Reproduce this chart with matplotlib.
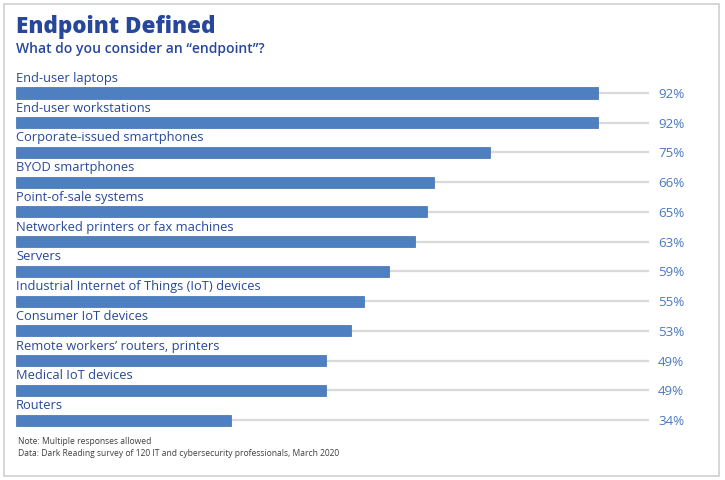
import matplotlib.pyplot as plt
from matplotlib.patches import Rectangle

categories = [
    "End-user laptops",
    "End-user workstations",
    "Corporate-issued smartphones",
    "BYOD smartphones",
    "Point-of-sale systems",
    "Networked printers or fax machines",
    "Servers",
    "Industrial Internet of Things (IoT) devices",
    "Consumer IoT devices",
    "Remote workers\u2019 routers, printers",
    "Medical IoT devices",
    "Routers",
]
values = [92, 92, 75, 66, 65, 63, 59, 55, 53, 49, 49, 34]

navy = "#27489a"
bar_blue = "#4d7fc1"
pct_blue = "#4a78c0"
track = "#d9d9d9"

W, H = 725, 480
fig = plt.figure(figsize=(W / 100, H / 100), dpi=100)
plt.rcParams['font.family'] = ['Open Sans', 'DejaVu Sans']

# outer frame
fig.patches.append(Rectangle((4 / W, 4 / H), 715 / W, 472 / H, transform=fig.transFigure,
                             fill=False, edgecolor="#cfcfcf", linewidth=1.2))

# axes: x 0..100 spans px 16..648.6, rows pitch ~29.7 px
pitch = 29.73
top_px = 93 - pitch
bot_px = 93 + pitch * 11.5
ax = fig.add_axes([16 / W, 1 - bot_px / H, (648.6 - 16) / W, (bot_px - top_px) / H])
ax.set_xlim(0, 100)
ax.set_ylim(11.5, -1)
ax.axis("off")

y = list(range(len(categories)))
ax.hlines(y, 0, 100, color=track, linewidth=1.6, zorder=1)
ax.barh(y, values, height=0.37, color=bar_blue, edgecolor="#3f6fae", linewidth=0.5, zorder=2)

for i, (cat, v) in enumerate(zip(categories, values)):
    ax.text(0, i - 0.37, cat, fontsize=9.3, color=navy, va="baseline", ha="left")
    ax.text(101.5, i, f"{v}%", fontsize=9.6, color=pct_blue, va="center_baseline", ha="left")

fig.text(16 / W, 1 - 33 / H, "Endpoint Defined", fontsize=16.1, fontweight=800,
         color=navy, va="baseline")
fig.text(16 / W, 1 - 53 / H, "What do you consider an \u201cendpoint\u201d?", fontsize=10,
         fontweight="semibold", color=navy, va="baseline")
fig.text(18 / W, 1 - 444 / H, "Note: Multiple responses allowed", fontsize=6.15,
         color="#404040", va="baseline")
fig.text(18 / W, 1 - 455.5 / H,
         "Data: Dark Reading survey of 120 IT and cybersecurity professionals, March 2020",
         fontsize=6.15, color="#404040", va="baseline")

fig.savefig("out.png", dpi=100)
